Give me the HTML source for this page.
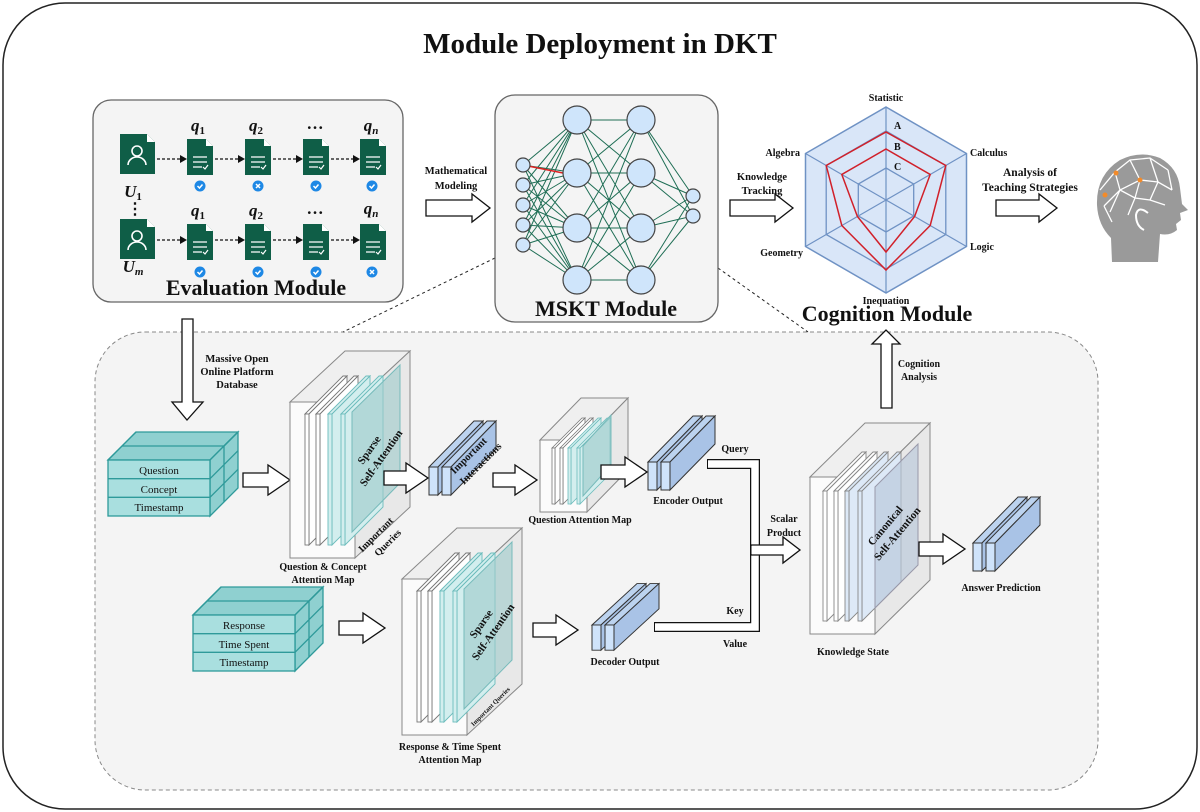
<!DOCTYPE html>
<html><head><meta charset="utf-8"><style>
html,body{margin:0;padding:0;background:#fff}
svg{display:block}
text{font-family:"Liberation Serif",serif;font-weight:bold;fill:#111}
</style></head><body>
<svg width="1200" height="812" viewBox="0 0 1200 812" xmlns="http://www.w3.org/2000/svg">
<defs>
<g id="sdoc">
<polygon points="0,0 19,0 26,7 26,36 0,36" fill="#0f5e47"/>
<polygon points="19,0 26,7 19,7" fill="#fff"/>
<path d="M6 18H20M6 23H20M6 28H15" stroke="#fff" stroke-width="1.3"/>
<path d="M16 28l2 2 3-4" stroke="#fff" stroke-width="1.2" fill="none"/>
</g>
<g id="bdoc">
<polygon points="0,0 27,0 35,8 35,40 0,40" fill="#0f5e47"/>
<polygon points="27,0 35,8 27,8" fill="#fff"/>
<circle cx="17" cy="17" r="5" fill="none" stroke="#fff" stroke-width="1.6"/>
<path d="M8 31a9 8 0 0 1 18 0" fill="none" stroke="#fff" stroke-width="1.6"/>
</g>
<g id="ok"><circle r="5.5" fill="#1e88e5"/><path d="M-2.5 0l2 2 3-3.5" stroke="#fff" stroke-width="1.5" fill="none"/></g>
<g id="no"><circle r="5.5" fill="#1e88e5"/><path d="M-2 -2l4 4M2 -2l-4 4" stroke="#fff" stroke-width="1.5"/></g>
<g id="blk" stroke="#333" stroke-width="1">
<polygon points="0,0 45,-46 54,-46 9,0" fill="#bcd3ef"/>
<polygon points="9,0 54,-46 54,-18 9,28" fill="#a9c3e6"/>
<rect x="0" y="0" width="9" height="28" fill="#cfe3fa"/>
<polygon points="13,0 58,-46 67,-46 22,0" fill="#bcd3ef"/>
<polygon points="22,0 67,-46 67,-18 22,28" fill="#a9c3e6"/>
<rect x="13" y="0" width="9" height="28" fill="#cfe3fa"/>
</g>
<g id="cube" stroke="#2e9a9a" stroke-width="1.3">
<polygon points="0,0 28,-28 130,-28 102,0" fill="#8fd0d0"/>
<polygon points="102,0 130,-28 130,28 102,56" fill="#8fd0d0"/>
<rect x="0" y="0" width="102" height="56" fill="#a9dfdf"/>
<path d="M0 18.7H102M0 37.3H102M102 18.7L130 -9.3M102 37.3L130 9.3M14 -14H116V42M116 -14L130 -28" fill="none"/>
<path d="M28 -28L0 0" fill="none"/>
</g>
<g id="abox">
<polygon points="0,0 55,-51 120,-51 65,0" fill="#efefef" stroke="#888"/>
<polygon points="65,0 120,-51 120,105 65,156" fill="#e8e8e8" stroke="#888"/>
<rect x="0" y="0" width="65" height="156" fill="#fbfbfb" stroke="#888"/>
<g stroke="#777" stroke-width="0.9">
<polygon points="15,12 53,-26 57,-26 19,12" fill="#fff"/><polygon points="19,12 57,-26 57,105 19,143" fill="#fff"/><rect x="15" y="12" width="4" height="131" fill="#fff"/>
<polygon points="26,12 64,-26 68,-26 30,12" fill="#fff"/><polygon points="30,12 68,-26 68,105 30,143" fill="#fff"/><rect x="26" y="12" width="4" height="131" fill="#fff"/>
</g>
<g stroke="#6cbcbc" stroke-width="0.9">
<polygon points="38,12 76,-26 80,-26 42,12" fill="#d3eeee"/><polygon points="42,12 80,-26 80,105 42,143" fill="#d3eeee"/><rect x="38" y="12" width="4" height="131" fill="#d3eeee"/>
<polygon points="51,12 89,-26 93,-26 55,12" fill="#d3eeee"/><polygon points="55,12 93,-26 93,105 55,143" fill="#d3eeee"/><rect x="51" y="12" width="4" height="131" fill="#d3eeee"/>
</g>
<polygon points="62,10 110,-37 110,81 62,130" fill="#9ccaca" fill-opacity="0.6" stroke="#7bb"/>
</g>
</defs>

<rect x="3" y="3" width="1194" height="806" rx="62" fill="#fff" stroke="#222" stroke-width="1.5"/>
<text x="600" y="53" font-size="29" text-anchor="middle">Module Deployment in DKT</text>

<rect x="95" y="332" width="1003" height="458" rx="50" fill="#f4f4f4" stroke="#888" stroke-dasharray="4,3"/>
<path d="M495 258L343 332M718 268L808 332" stroke="#222" stroke-dasharray="3,3" fill="none"/>

<rect x="93" y="100" width="310" height="202" rx="18" fill="#f4f4f4" stroke="#666" stroke-width="1.3"/>
<use href="#bdoc" x="120" y="134"/>
<use href="#bdoc" x="120" y="219"/>
<use href="#sdoc" x="187" y="139"/><use href="#sdoc" x="245" y="139"/><use href="#sdoc" x="303" y="139"/><use href="#sdoc" x="360" y="139"/>
<use href="#sdoc" x="187" y="224"/><use href="#sdoc" x="245" y="224"/><use href="#sdoc" x="303" y="224"/><use href="#sdoc" x="360" y="224"/>
<g stroke="#111" stroke-width="1.2" stroke-dasharray="3,2">
<path d="M157 159H181M215 159H239M273 159H297M331 159H354M157 240H181M215 240H239M273 240H297M331 240H354"/>
</g>
<g fill="#111">
<polygon points="187,159 180,155 180,163"/><polygon points="245,159 238,155 238,163"/><polygon points="303,159 296,155 296,163"/><polygon points="360,159 353,155 353,163"/>
<polygon points="187,240 180,236 180,244"/><polygon points="245,240 238,236 238,244"/><polygon points="303,240 296,236 296,244"/><polygon points="360,240 353,236 353,244"/>
</g>
<use href="#ok" x="200" y="186"/><use href="#no" x="258" y="186"/><use href="#ok" x="316" y="186"/><use href="#ok" x="372" y="186"/>
<use href="#ok" x="200" y="272"/><use href="#ok" x="258" y="272"/><use href="#ok" x="316" y="272"/><use href="#no" x="372" y="272"/>
<g font-size="17" font-style="italic" text-anchor="middle">
<text x="198" y="131">q<tspan font-size="11" dy="3" font-style="normal">1</tspan></text>
<text x="256" y="131">q<tspan font-size="11" dy="3" font-style="normal">2</tspan></text>
<text x="315" y="129" font-style="normal">…</text>
<text x="371" y="131">q<tspan font-size="11" dy="3">n</tspan></text>
<text x="198" y="216">q<tspan font-size="11" dy="3" font-style="normal">1</tspan></text>
<text x="256" y="216">q<tspan font-size="11" dy="3" font-style="normal">2</tspan></text>
<text x="315" y="214" font-style="normal">…</text>
<text x="371" y="214">q<tspan font-size="11" dy="3">n</tspan></text>
<text x="133" y="197">U<tspan font-size="11" dy="3" font-style="normal">1</tspan></text>
<text x="133" y="272">U<tspan font-size="11" dy="3">m</tspan></text>
</g>
<text x="135" y="214" font-size="16" text-anchor="middle">⋮</text>
<text x="256" y="295" font-size="22" text-anchor="middle">Evaluation Module</text>

<text x="456" y="174" font-size="10.5" text-anchor="middle">Mathematical</text>
<text x="456" y="189" font-size="10.5" text-anchor="middle">Modeling</text>
<polygon points="426,200 472,200 472,194 490,208 472,222 472,216 426,216" fill="#fff" stroke="#111" stroke-width="1.3"/>

<rect x="495" y="95" width="223" height="227" rx="20" fill="#f4f4f4" stroke="#666" stroke-width="1.3"/>
<g stroke="#1f6e55" stroke-width="1">
<path d="M523 165L577 120M523 165L577 173M523 165L577 228M523 165L577 280
M523 185L577 120M523 185L577 173M523 185L577 228M523 185L577 280
M523 205L577 120M523 205L577 173M523 205L577 228M523 205L577 280
M523 225L577 120M523 225L577 173M523 225L577 228M523 225L577 280
M523 245L577 120M523 245L577 173M523 245L577 228M523 245L577 280
M577 120L641 120M577 120L641 173M577 120L641 228M577 120L641 280
M577 173L641 120M577 173L641 173M577 173L641 228M577 173L641 280
M577 228L641 120M577 228L641 173M577 228L641 228M577 228L641 280
M577 280L641 120M577 280L641 173M577 280L641 228M577 280L641 280
M641 120L693 196M641 120L693 216M641 173L693 196M641 173L693 216
M641 228L693 196M641 228L693 216M641 280L693 196M641 280L693 216"/>
</g>
<path d="M523 165L563 173" stroke="#d22" stroke-width="1.5"/>
<g fill="#cfe5fb" stroke="#444" stroke-width="1.2">
<circle cx="523" cy="165" r="7"/><circle cx="523" cy="185" r="7"/><circle cx="523" cy="205" r="7"/><circle cx="523" cy="225" r="7"/><circle cx="523" cy="245" r="7"/>
<circle cx="577" cy="120" r="14"/><circle cx="577" cy="173" r="14"/><circle cx="577" cy="228" r="14"/><circle cx="577" cy="280" r="14"/>
<circle cx="641" cy="120" r="14"/><circle cx="641" cy="173" r="14"/><circle cx="641" cy="228" r="14"/><circle cx="641" cy="280" r="14"/>
<circle cx="693" cy="196" r="7"/><circle cx="693" cy="216" r="7"/>
</g>
<text x="606" y="316" font-size="22" text-anchor="middle">MSKT Module</text>

<text x="762" y="180" font-size="10.5" text-anchor="middle">Knowledge</text>
<text x="762" y="194" font-size="10.5" text-anchor="middle">Tracking</text>
<polygon points="730,200 775,200 775,194 793,208 775,222 775,216 730,216" fill="#fff" stroke="#111" stroke-width="1.3"/>

<polygon points="886,107 966.5,153.5 966.5,246.5 886,293 805.5,246.5 805.5,153.5" fill="#d9e6f8" stroke="#6f92c4" stroke-width="1.5"/>
<polygon points="886,131 945.8,165.5 945.8,234.5 886,269 826.2,234.5 826.2,165.5" fill="none" stroke="#6f92c4" stroke-width="1.3"/>
<polygon points="886,168 913.7,184 913.7,216 886,232 858.3,216 858.3,184" fill="none" stroke="#6f92c4" stroke-width="1.3"/>
<path d="M886 200L886 107M886 200L966.5 153.5M886 200L966.5 246.5M886 200L886 293M886 200L805.5 246.5M886 200L805.5 153.5" stroke="#6f92c4" stroke-width="1.2"/>
<polygon points="886,132 945.8,165.5 930.2,225.5 886,270 841.8,225.5 826.2,165.5" fill="none" stroke="#d1202a" stroke-width="1.5"/>
<polygon points="886,149 930.2,174.5 914.6,216.5 886,252 857.4,216.5 841.8,174.5" fill="none" stroke="#d1202a" stroke-width="1.5"/>
<g font-size="10">
<text x="886" y="101" text-anchor="middle">Statistic</text>
<text x="970" y="156">Calculus</text>
<text x="970" y="250">Logic</text>
<text x="886" y="304" text-anchor="middle">Inequation</text>
<text x="803" y="256" text-anchor="end">Geometry</text>
<text x="800" y="156" text-anchor="end">Algebra</text>
<text x="894" y="129">A</text><text x="894" y="150">B</text><text x="894" y="170">C</text>
</g>
<text x="887" y="321" font-size="22" text-anchor="middle">Cognition Module</text>

<text x="1030" y="176" font-size="11.5" text-anchor="middle">Analysis of</text>
<text x="1030" y="191" font-size="11.5" text-anchor="middle">Teaching Strategies</text>
<polygon points="996,200 1039,200 1039,194 1057,208 1039,222 1039,216 996,216" fill="#fff" stroke="#111" stroke-width="1.3"/>

<path d="M1112 262L1111 238Q1098 225 1097 205Q1096 175 1120 160Q1140 150 1160 158Q1178 168 1180 188L1182 204L1188 210L1180 213L1181 220L1176 224L1177 230Q1170 236 1160 234L1158 262Z" fill="#9a9a9a"/>
<g stroke="#fff" stroke-width="1.3" fill="none">
<path d="M1100 190L1115 172L1130 160L1150 158L1168 170M1104 206L1120 190L1140 180L1158 182L1172 190M1115 172L1120 190L1110 212M1130 160L1140 180L1135 198M1150 158L1158 182L1150 200M1168 170L1172 190M1120 190L1135 198L1150 200L1165 205M1104 206L1112 222M1135 198L1128 215"/>
<path d="M1148 213Q1138 205 1136 215Q1136 226 1144 230" stroke-width="2"/>
</g>
<circle cx="1116" cy="173" r="2.5" fill="#f38b2a"/><circle cx="1140" cy="180" r="2.5" fill="#f38b2a"/><circle cx="1105" cy="195" r="2.5" fill="#f38b2a"/>

<polygon points="182,319 193,319 193,402 203,402 187,420 172,402 182,402" fill="#fff" stroke="#111" stroke-width="1.3"/>
<text x="237" y="362" font-size="10.5" text-anchor="middle">Massive Open</text>
<text x="237" y="375" font-size="10.5" text-anchor="middle">Online Platform</text>
<text x="237" y="388" font-size="10.5" text-anchor="middle">Database</text>

<use href="#cube" x="108" y="460"/>
<text x="159" y="474" font-size="11" text-anchor="middle" style="font-weight:normal">Question</text>
<text x="159" y="493" font-size="11" text-anchor="middle" style="font-weight:normal">Concept</text>
<text x="159" y="511" font-size="11" text-anchor="middle" style="font-weight:normal">Timestamp</text>
<polygon points="243,473 268,473 268,465 290,480 268,495 268,487 243,487" fill="#fff" stroke="#111" stroke-width="1.3"/>

<use href="#abox" x="290" y="402"/>
<text font-size="11" transform="translate(372,452) rotate(-55)" text-anchor="middle">Sparse</text>
<text font-size="11" transform="translate(384,460) rotate(-55)" text-anchor="middle">Self-Attention</text>
<text font-size="10" transform="translate(378,537) rotate(-45)" text-anchor="middle">Important</text>
<text font-size="10" transform="translate(390,545) rotate(-45)" text-anchor="middle">Queries</text>
<text x="323" y="570" font-size="10" text-anchor="middle">Question &amp; Concept</text>
<text x="323" y="583" font-size="10" text-anchor="middle">Attention Map</text>
<polygon points="384,471 406,471 406,463 428,478 406,493 406,485 384,485" fill="#fff" stroke="#111" stroke-width="1.3"/>

<use href="#blk" x="429" y="467"/>
<text font-size="10.5" transform="translate(471,458) rotate(-45)" text-anchor="middle">Important</text>
<text font-size="10.5" transform="translate(483,466) rotate(-45)" text-anchor="middle">Interactions</text>
<polygon points="493,473 515,473 515,465 537,480 515,495 515,487 493,487" fill="#fff" stroke="#111" stroke-width="1.3"/>

<polygon points="540,440 581,398 628,398 587,440" fill="#efefef" stroke="#888"/>
<polygon points="587,440 628,398 628,470 587,512" fill="#e8e8e8" stroke="#888"/>
<rect x="540" y="440" width="47" height="72" fill="#fbfbfb" stroke="#888"/>
<g stroke="#777" stroke-width="0.8">
<polygon points="552,448 582,418 585,418 555,448" fill="#fff"/><polygon points="555,448 585,418 585,474 555,504" fill="#fff"/><rect x="552" y="448" width="3" height="56" fill="#fff"/>
<polygon points="560,448 590,418 593,418 563,448" fill="#fff"/><polygon points="563,448 593,418 593,474 563,504" fill="#fff"/><rect x="560" y="448" width="3" height="56" fill="#fff"/>
</g>
<g stroke="#6cbcbc" stroke-width="0.8">
<polygon points="568,448 598,418 601,418 571,448" fill="#d3eeee"/><polygon points="571,448 601,418 601,474 571,504" fill="#d3eeee"/><rect x="568" y="448" width="3" height="56" fill="#d3eeee"/>
<polygon points="577,448 607,418 610,418 580,448" fill="#d3eeee"/><polygon points="580,448 610,418 610,474 580,504" fill="#d3eeee"/><rect x="577" y="448" width="3" height="56" fill="#d3eeee"/>
</g>
<polygon points="583,446 611,415 611,465 583,496" fill="#9ccaca" fill-opacity="0.6" stroke="#7bb"/>
<text x="580" y="523" font-size="10" text-anchor="middle">Question Attention Map</text>
<polygon points="601,465 625,465 625,457 647,472 625,487 625,479 601,479" fill="#fff" stroke="#111" stroke-width="1.3"/>

<use href="#blk" x="648" y="462"/>
<text x="688" y="504" font-size="10" text-anchor="middle">Encoder Output</text>
<text x="735" y="452" font-size="10" text-anchor="middle">Query</text>

<path d="M707 464H755V553M654 627H755V545" fill="none" stroke="#111" stroke-width="10"/>
<path d="M708 464H755V553M655 627H755V545" fill="none" stroke="#fff" stroke-width="7.5"/>
<polygon points="751,545 783,545 783,537 800,550 783,563 783,555 751,555" fill="#fff" stroke="#111" stroke-width="1.3"/>
<rect x="751.5" y="546" width="5" height="8" fill="#fff"/>
<text x="784" y="522" font-size="10" text-anchor="middle">Scalar</text>
<text x="784" y="536" font-size="10" text-anchor="middle">Product</text>
<text x="735" y="614" font-size="10" text-anchor="middle">Key</text>
<text x="735" y="647" font-size="10" text-anchor="middle">Value</text>

<use href="#cube" x="193" y="615"/>
<text x="244" y="629" font-size="11" text-anchor="middle" style="font-weight:normal">Response</text>
<text x="244" y="648" font-size="11" text-anchor="middle" style="font-weight:normal">Time Spent</text>
<text x="244" y="666" font-size="11" text-anchor="middle" style="font-weight:normal">Timestamp</text>
<polygon points="339,621 363,621 363,613 385,628 363,643 363,635 339,635" fill="#fff" stroke="#111" stroke-width="1.3"/>

<use href="#abox" x="402" y="579"/>
<text font-size="11" transform="translate(484,626) rotate(-55)" text-anchor="middle">Sparse</text>
<text font-size="11" transform="translate(496,634) rotate(-55)" text-anchor="middle">Self-Attention</text>
<text font-size="6.5" transform="translate(492,708) rotate(-45)" text-anchor="middle">Important Queries</text>
<text x="450" y="750" font-size="10" text-anchor="middle">Response &amp; Time Spent</text>
<text x="450" y="763" font-size="10" text-anchor="middle">Attention Map</text>
<polygon points="533,623 556,623 556,615 578,630 556,645 556,637 533,637" fill="#fff" stroke="#111" stroke-width="1.3"/>

<g transform="translate(592,625) scale(1,0.9)"><use href="#blk"/></g>
<text x="625" y="665" font-size="10" text-anchor="middle">Decoder Output</text>

<polygon points="810,477 865,423 930,423 875,477" fill="#efefef" stroke="#888"/>
<polygon points="875,477 930,423 930,580 875,634" fill="#e8e8e8" stroke="#888"/>
<rect x="810" y="477" width="65" height="157" fill="#fbfbfb" stroke="#888"/>
<g stroke="#888" stroke-width="0.9">
<polygon points="823,491 862,452 866,452 827,491" fill="#fff"/><polygon points="827,491 866,452 866,582 827,621" fill="#fff"/><rect x="823" y="491" width="4" height="130" fill="#fff"/>
<polygon points="834,491 873,452 877,452 838,491" fill="#fff"/><polygon points="838,491 877,452 877,582 838,621" fill="#fff"/><rect x="834" y="491" width="4" height="130" fill="#fff"/>
<polygon points="845,491 884,452 888,452 849,491" fill="#dde9f7"/><polygon points="849,491 888,452 888,582 849,621" fill="#dde9f7"/><rect x="845" y="491" width="4" height="130" fill="#dde9f7"/>
<polygon points="858,491 897,452 901,452 862,491" fill="#dde9f7"/><polygon points="862,491 901,452 901,582 862,621" fill="#dde9f7"/><rect x="858" y="491" width="4" height="130" fill="#dde9f7"/>
</g>
<polygon points="875,487 918,444 918,565 875,608" fill="#b9c8da" fill-opacity="0.65" stroke="#99a"/>
<text font-size="11" transform="translate(888,528) rotate(-50)" text-anchor="middle">Canonical</text>
<text font-size="11" transform="translate(900,536) rotate(-50)" text-anchor="middle">Self-Attention</text>
<text x="853" y="655" font-size="10" text-anchor="middle">Knowledge State</text>
<polygon points="919,542 943,542 943,534 965,549 943,564 943,556 919,556" fill="#fff" stroke="#111" stroke-width="1.3"/>

<polygon points="881,408 892,408 892,344 900,344 886,330 872,344 881,344" fill="#fff" stroke="#111" stroke-width="1.3"/>
<text x="919" y="367" font-size="10" text-anchor="middle">Cognition</text>
<text x="919" y="380" font-size="10" text-anchor="middle">Analysis</text>

<use href="#blk" x="973" y="543"/>
<text x="1001" y="591" font-size="10" text-anchor="middle">Answer Prediction</text>
</svg>
</body></html>
